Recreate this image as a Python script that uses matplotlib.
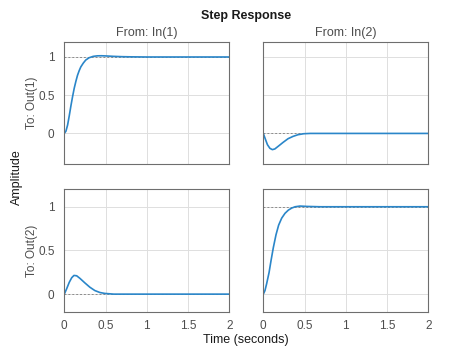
import matplotlib
matplotlib.use("Agg")
import matplotlib.pyplot as plt

plt.rcParams['font.family'] = ['Liberation Sans', 'DejaVu Sans']

# step response samples: (time, amplitude)
t11 = [0, 0.02, 0.04, 0.06, 0.08, 0.10, 0.12, 0.14, 0.16, 0.18, 0.20, 0.23, 0.26,
       0.30, 0.35, 0.40, 0.45, 0.50, 0.60, 0.70, 0.80, 1.0, 1.5, 2.0]
y11 = [0, 0.03, 0.11, 0.23, 0.36, 0.48, 0.59, 0.68, 0.76, 0.82, 0.87, 0.92, 0.96,
       0.99, 1.008, 1.015, 1.016, 1.014, 1.008, 1.004, 1.002, 1.0, 1.0, 1.0]

t12 = [0, 0.02, 0.05, 0.08, 0.11, 0.14, 0.18, 0.24, 0.30, 0.36, 0.42, 0.49, 0.57,
       0.7, 1.0, 1.5, 2.0]
y12 = [0, -0.06, -0.147, -0.195, -0.212, -0.203, -0.169, -0.117, -0.069, -0.039,
       -0.017, -0.004, 0, 0, 0, 0, 0]

t21 = [0, 0.028, 0.06, 0.09, 0.117, 0.15, 0.19, 0.25, 0.31, 0.37, 0.43, 0.49, 0.6,
       0.8, 1.0, 1.5, 2.0]
y21 = [0, 0.06, 0.135, 0.188, 0.214, 0.21, 0.18, 0.128, 0.079, 0.041, 0.019,
       0.008, 0, 0, 0, 0, 0]

t22 = [0, 0.02, 0.04, 0.07, 0.093, 0.121, 0.154, 0.186, 0.223, 0.263, 0.304,
       0.344, 0.385, 0.445, 0.526, 0.69, 1.0, 1.5, 2.0]
y22 = [0, 0.04, 0.117, 0.248, 0.38, 0.53, 0.68, 0.79, 0.87, 0.925, 0.962,
       0.985, 1.0, 1.008, 1.004, 1.0, 1.0, 1.0, 1.0]

curves = [[(t11, y11, 1), (t12, y12, 0)],
          [(t21, y21, 0), (t22, y22, 1)]]
in_names = ['From: In(1)', 'From: In(2)']
out_names = ['To: Out(1)', 'To: Out(2)']
ylims = [(-0.4, 1.2), (-0.2, 1.2)]
xticks = [0, 0.5, 1, 1.5, 2]
xticklabels = ['0', '0.5', '1', '1.5', '2']
yticks = [0, 0.5, 1]
yticklabels = ['0', '0.5', '1']

W, H = 474, 355
fig = plt.figure(figsize=(W / 100, H / 100), dpi=100)
fig.patch.set_facecolor('white')

lefts = [64.3, 263.3]
tops = [41.7, 189.3]
aw, ah = 165, 122.3
grey_txt = '#4d4d4d'

for r in range(2):
    for c in range(2):
        ax = fig.add_axes([lefts[c] / W, 1 - (tops[r] + ah) / H, aw / W, ah / H])
        t, y, final = curves[r][c]
        ax.plot([0, 2], [final, final], ls=(0, (2, 2)), color='#8c8c8c', lw=0.7)
        ax.plot(t, y, color='#2a86c9', lw=1.2)
        ax.set_xlim(0, 2)
        ax.set_ylim(*ylims[r])
        ax.set_xticks(xticks)
        ax.set_yticks(yticks)
        ax.grid(True, color='#dedede', lw=0.7)
        ax.set_axisbelow(True)
        for s in ax.spines.values():
            s.set_color('#6e6e6e')
            s.set_linewidth(0.8)
        ax.tick_params(direction='in', length=0, color='#6e6e6e',
                       labelsize=8.5, labelcolor=grey_txt)
        ax.tick_params(axis='y', pad=7)
        ax.tick_params(axis='x', pad=6)
        if r == 1:
            ax.set_xticklabels(xticklabels)
        else:
            ax.set_xticklabels([])
            ax.set_title(in_names[c], fontsize=9, color=grey_txt, pad=4)
        if c == 0:
            ax.set_yticklabels(yticklabels)
            ax.set_ylabel(out_names[r], fontsize=8.5, color=grey_txt)
            ax.yaxis.set_label_coords((38.5 - lefts[0]) / aw, 0.5)
        else:
            ax.set_yticklabels([])

fig.text(246 / W, 1 - 16 / H, 'Step Response', ha='center', va='center',
         fontsize=9, fontweight='bold', color='#1a1a1a')
fig.text(246 / W, 1 - 340 / H, 'Time (seconds)', ha='center', va='center',
         fontsize=9, color='#1a1a1a')
fig.text(17 / W, 1 - 177 / H, 'Amplitude', ha='center', va='center',
         rotation=90, fontsize=9, color='#1a1a1a')

fig.savefig('out.png', dpi=100)
